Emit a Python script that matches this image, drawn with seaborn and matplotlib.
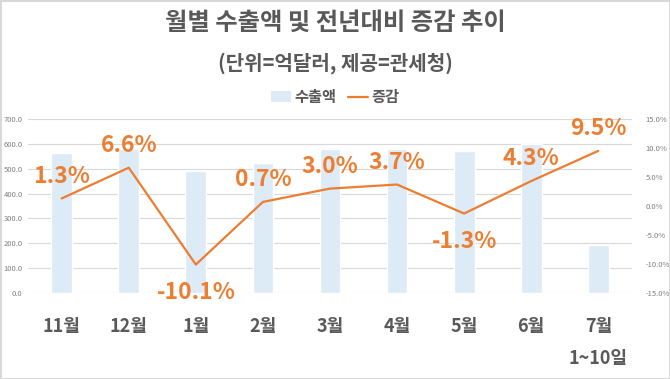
import numpy as np
import pandas as pd
import matplotlib
matplotlib.use('Agg')
import matplotlib.pyplot as plt
from matplotlib.patches import Patch
from matplotlib.lines import Line2D
import seaborn as sns

# Data
months = ['11월', '12월', '1월', '2월', '3월', '4월', '5월', '6월', '7월']
exports = [562, 578, 491, 522, 579, 579, 571, 599, 192]  # 억달러
change = [1.3, 6.6, -10.1, 0.7, 3.0, 3.7, -1.3, 4.3, 9.5]  # 전년대비 %
left_ticks = [0, 100, 200, 300, 400, 500, 600, 700]
right_ticks = [-15, -10, -5, 0, 5, 10, 15]

sns.set_style('white')
plt.rcParams['font.family'] = ['Noto Sans CJK KR', 'DejaVu Sans']

BAR = '#DDEBF7'
ORANGE = '#ED7D31'
DARK = '#595959'
GRID = '#D9D9D9'

df = pd.DataFrame({'month': months, 'exports': exports, 'change': change})

fig = plt.figure(figsize=(6.7, 3.79), dpi=100)
fig.patch.set_edgecolor(GRID)
fig.patch.set_linewidth(2)
ax = fig.add_axes([0.042, 0.227, 0.901, 0.459])

sns.barplot(data=df, x='month', y='exports', color=BAR, width=0.31,
            saturation=1, ax=ax)
ax.set_ylim(0, 700)
ax.set_yticks(left_ticks)
ax.set_yticklabels([f'{v:.1f}' for v in left_ticks])
ax.yaxis.grid(True, color=GRID, linewidth=0.8)
ax.set_axisbelow(True)
ax.set_xlabel('')
ax.set_ylabel('')
ax.tick_params(axis='y', labelsize=5.5, labelcolor='#7F7F7F', length=0, pad=4)
ax.tick_params(axis='x', labelsize=13, labelcolor=DARK, length=0, pad=17)
for lbl in ax.get_xticklabels():
    lbl.set_fontweight('bold')
for s in ax.spines.values():
    s.set_visible(False)

ax2 = ax.twinx()
sns.lineplot(x=np.arange(len(months)), y=df['change'], color=ORANGE,
             linewidth=1.6, ax=ax2)
ax2.set_ylim(-15, 15)
ax2.set_yticks(right_ticks)
ax2.set_yticklabels([f'{v:.1f}%' for v in right_ticks])
ax2.tick_params(axis='y', labelsize=5.5, labelcolor='#7F7F7F', length=0, pad=10)
ax2.set_ylabel('')
for s in ax2.spines.values():
    s.set_visible(False)

for i, v in enumerate(change):
    dy = -20 if v in (-10.1, -1.3) else 16
    ax2.annotate(f'{v:.1f}%', (i, v), xytext=(0, dy), textcoords='offset points',
                 ha='center', va='center', fontsize=16.5, fontweight='bold',
                 color=ORANGE)

ax.set_xlim(-0.5, len(months) - 0.5)
ax.text(8, -0.375, '1~10일', transform=ax.get_xaxis_transform(), ha='center',
        va='center', fontsize=13, fontweight='bold', color=DARK)

fig.text(0.5, 0.94, '월별 수출액 및 전년대비 증감 추이', ha='center', va='center',
         fontsize=17.5, fontweight='bold', color=DARK)
fig.text(0.5, 0.835, '(단위=억달러, 제공=관세청)', ha='center', va='center',
         fontsize=14.5, fontweight='bold', color=DARK)

handles = [Patch(facecolor=BAR, edgecolor='none'),
           Line2D([0], [0], color=ORANGE, linewidth=1.6)]
fig.legend(handles, ['수출액', '증감'], loc='center', bbox_to_anchor=(0.5, 0.744),
           ncol=2, frameon=False, handlelength=1.3,
           handletextpad=0.2, columnspacing=0.8, labelcolor=DARK,
           prop={'weight': 'bold', 'size': 11})

fig.savefig('out.png', dpi=100)
